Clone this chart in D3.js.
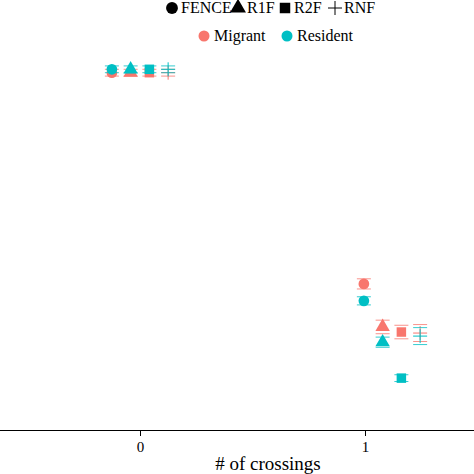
<!DOCTYPE html><html><head><script src="https://d3js.org/d3.v7.min.js"></script>
<style>body{margin:0;background:#fff}</style></head><body><svg id="c" width="474" height="474"></svg>
<script>
const categories=["FENCE","R1F","R2F","RNF"];
const groups=["Migrant","Resident"];
const crossings=[0,1];
const groupCenter=[0,1.12];
const migrant=[[0.995,0.995,0.995,0.995],[0.372,0.245,0.230,0.227]];
const resident=[[1.005,1.005,1.005,1.005],[0.322,0.200,0.094,0.218]];
const errM=[[0.01,0.01,0.01,0.01],[0.015,0.02,0.02,0.025]];
const errR=[[0.01,0.01,0.01,0.01],[0.012,0.015,0.01,0.025]];
const colors={Migrant:"#F8766D",Resident:"#00BFC4"};
const svg=d3.select("#c");
const x=d3.scaleLinear().domain([0,1]).range([140,365]);
const y=d3.scaleLinear().domain([0,1]).range([410,71]);
const dodge=d3.scalePoint().domain(categories).range([-0.125,0.125]);
const shapes={FENCE:d3.symbolCircle,R1F:d3.symbolTriangle,R2F:d3.symbolSquare,RNF:null};
function mark(g,cat,cx,cy,col,size){
  if(cat==="RNF"){g.append("path").attr("d",`M${cx-7},${cy}H${cx+7}M${cx},${cy-7}V${cy+7}`).attr("stroke",col).attr("stroke-width",1);}
  else g.append("path").attr("d",d3.symbol(shapes[cat],size)()).attr("transform",`translate(${cx},${cy})`).attr("fill",col);
}
const pts=svg.append("g");
crossings.forEach((c,ci)=>{
  groups.forEach(gn=>{
    const vals=gn==="Migrant"?migrant[ci]:resident[ci], err=gn==="Migrant"?errM[ci]:errR[ci];
    categories.forEach((cat,k)=>{
      const cx=x(groupCenter[ci]+dodge(cat)), cy=y(vals[k]);
      const col=colors[gn];
      [vals[k]-err[k],vals[k]+err[k]].forEach(v=>pts.append("line").attr("x1",cx-7).attr("x2",cx+7).attr("y1",y(v)).attr("y2",y(v)).attr("stroke",col).attr("stroke-width",0.8));
      mark(pts,cat,cx,cy,col,90);
    });
  });
});
svg.append("g").attr("transform","translate(0,430)").call(d3.axisBottom(x).tickValues(crossings).tickFormat(d3.format("d")).tickSizeOuter(0))
 .call(g=>{g.attr("font-size",null);g.select(".domain").attr("d","M0,0.5H474").attr("stroke","#000");g.selectAll("text").style("font-family","Liberation Serif").style("font-size","15px").attr("fill","#000").attr("dy","0.85em");});
svg.append("text").attr("x",268).attr("y",470).attr("text-anchor","middle").attr("font-family","Liberation Serif").attr("font-size",19).text("# of crossings");
const lg=svg.append("g").attr("font-family","Liberation Serif").attr("font-size",16);
const row1=[["FENCE",172],["R1F",238],["R2F",285],["RNF",335]];
row1.forEach(([c,px])=>{mark(lg,c,px,8,"#000",110);lg.append("text").attr("x",px+9).attr("y",13).text(c);});
[["Migrant",204],["Resident",287]].forEach(([gname,px])=>{lg.append("circle").attr("cx",px).attr("cy",36).attr("r",5.5).attr("fill",colors[gname]);lg.append("text").attr("x",px+10).attr("y",41).text(gname);});
</script></body></html>
